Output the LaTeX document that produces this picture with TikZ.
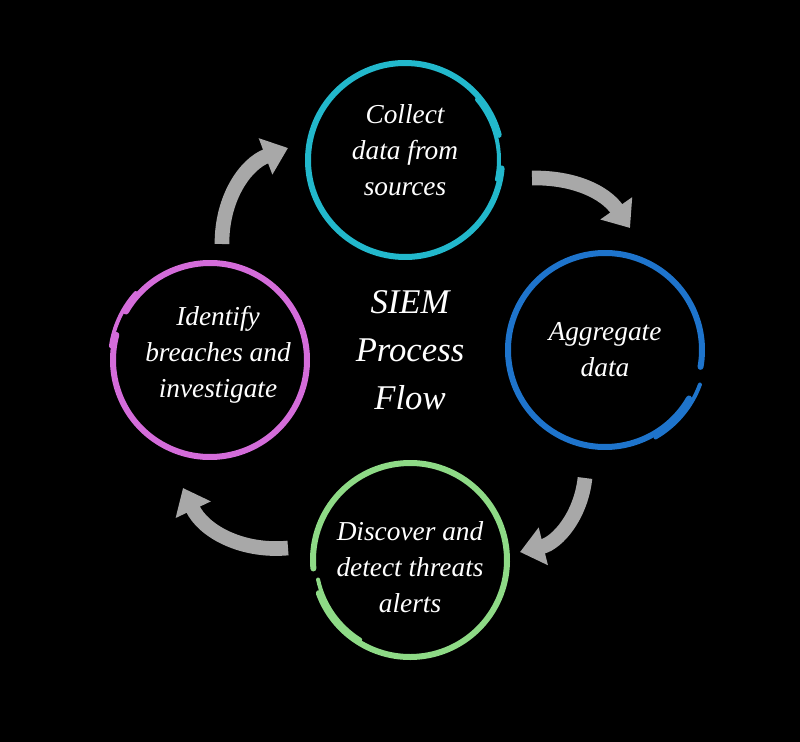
\documentclass[tikz,border=0pt]{standalone}
\usepackage{fontspec}
\setmainfont{Liberation Serif}
\usetikzlibrary{arrows.meta}
\definecolor{cA}{HTML}{22B8CC}
\definecolor{cB}{HTML}{1E74CC}
\definecolor{cC}{HTML}{8EDA86}
\definecolor{cD}{HTML}{D46CDA}
\definecolor{ga}{HTML}{A8A8A8}
\tikzset{
 ring/.style={line width=4.5pt,line cap=round},
 lbl/.style={text=white,align=center,font=\itshape\fontsize{20.5}{27}\selectfont},
 flow/.style={ga,line width=11pt,-{Triangle[length=18pt,width=28pt]}}
}
\begin{document}
\begin{tikzpicture}[x=0.75pt,y=-0.75pt]
\fill[black] (0,0) rectangle (800,742);
\useasboundingbox (0,0) rectangle (800,742);
% circles
\coordinate (A) at (405,160);
\coordinate (B) at (605,350);
\coordinate (C) at (410,560);
\coordinate (D) at (210,360);
\draw[ring,cA] ([shift={(5:97)}]A) arc[start angle=5,end angle=345,radius=97];
\draw[ring,cA,line width=3pt] ([shift={(-40:94)}]A) arc[start angle=-40,end angle=12,radius=94];
\draw[ring,cB] ([shift={(30:97)}]B) arc[start angle=30,end angle=370,radius=97];
\draw[ring,cB,line width=3pt] ([shift={(20:101)}]B) arc[start angle=20,end angle=60,radius=101];
\draw[ring,cC] ([shift={(175:97)}]C) arc[start angle=175,end angle=520,radius=97];
\draw[ring,cC,line width=3pt] ([shift={(168:94)}]C) arc[start angle=168,end angle=122,radius=94];
\draw[ring,cD] ([shift={(210:97)}]D) arc[start angle=210,end angle=555,radius=97];
\draw[ring,cD,line width=3pt] ([shift={(188:100)}]D) arc[start angle=188,end angle=222,radius=100];
% labels
\node[lbl] (ta) at (405,150) {Collect\\data from\\sources};
\node[lbl] (tb) at (605,350) {Aggregate\\data};
\node[lbl] (tc) at (410,567) {Discover and\\detect threats\\alerts};
\node[lbl] (td) at (218,355) {Identify\\breaches and\\investigate};
\node[lbl,font=\itshape\fontsize{26}{36}\selectfont] (tt) at (410,350) {SIEM\\Process\\Flow};
% flow arrows
\coordinate (a1) at (532,178); \coordinate (a2) at (630,228);
\coordinate (b1) at (585,478); \coordinate (b2) at (520,552);
\coordinate (c1) at (288,548); \coordinate (c2) at (183,488);
\coordinate (d1) at (222,244); \coordinate (d2) at (288,148);
\draw[flow] (a1) to[bend left=28] (a2);
\draw[flow] (b1) to[bend left=35] (b2);
\draw[flow] (c1) to[bend left=35] (c2);
\draw[flow] (d1) to[bend left=35] (d2);
\end{tikzpicture}
\end{document}
